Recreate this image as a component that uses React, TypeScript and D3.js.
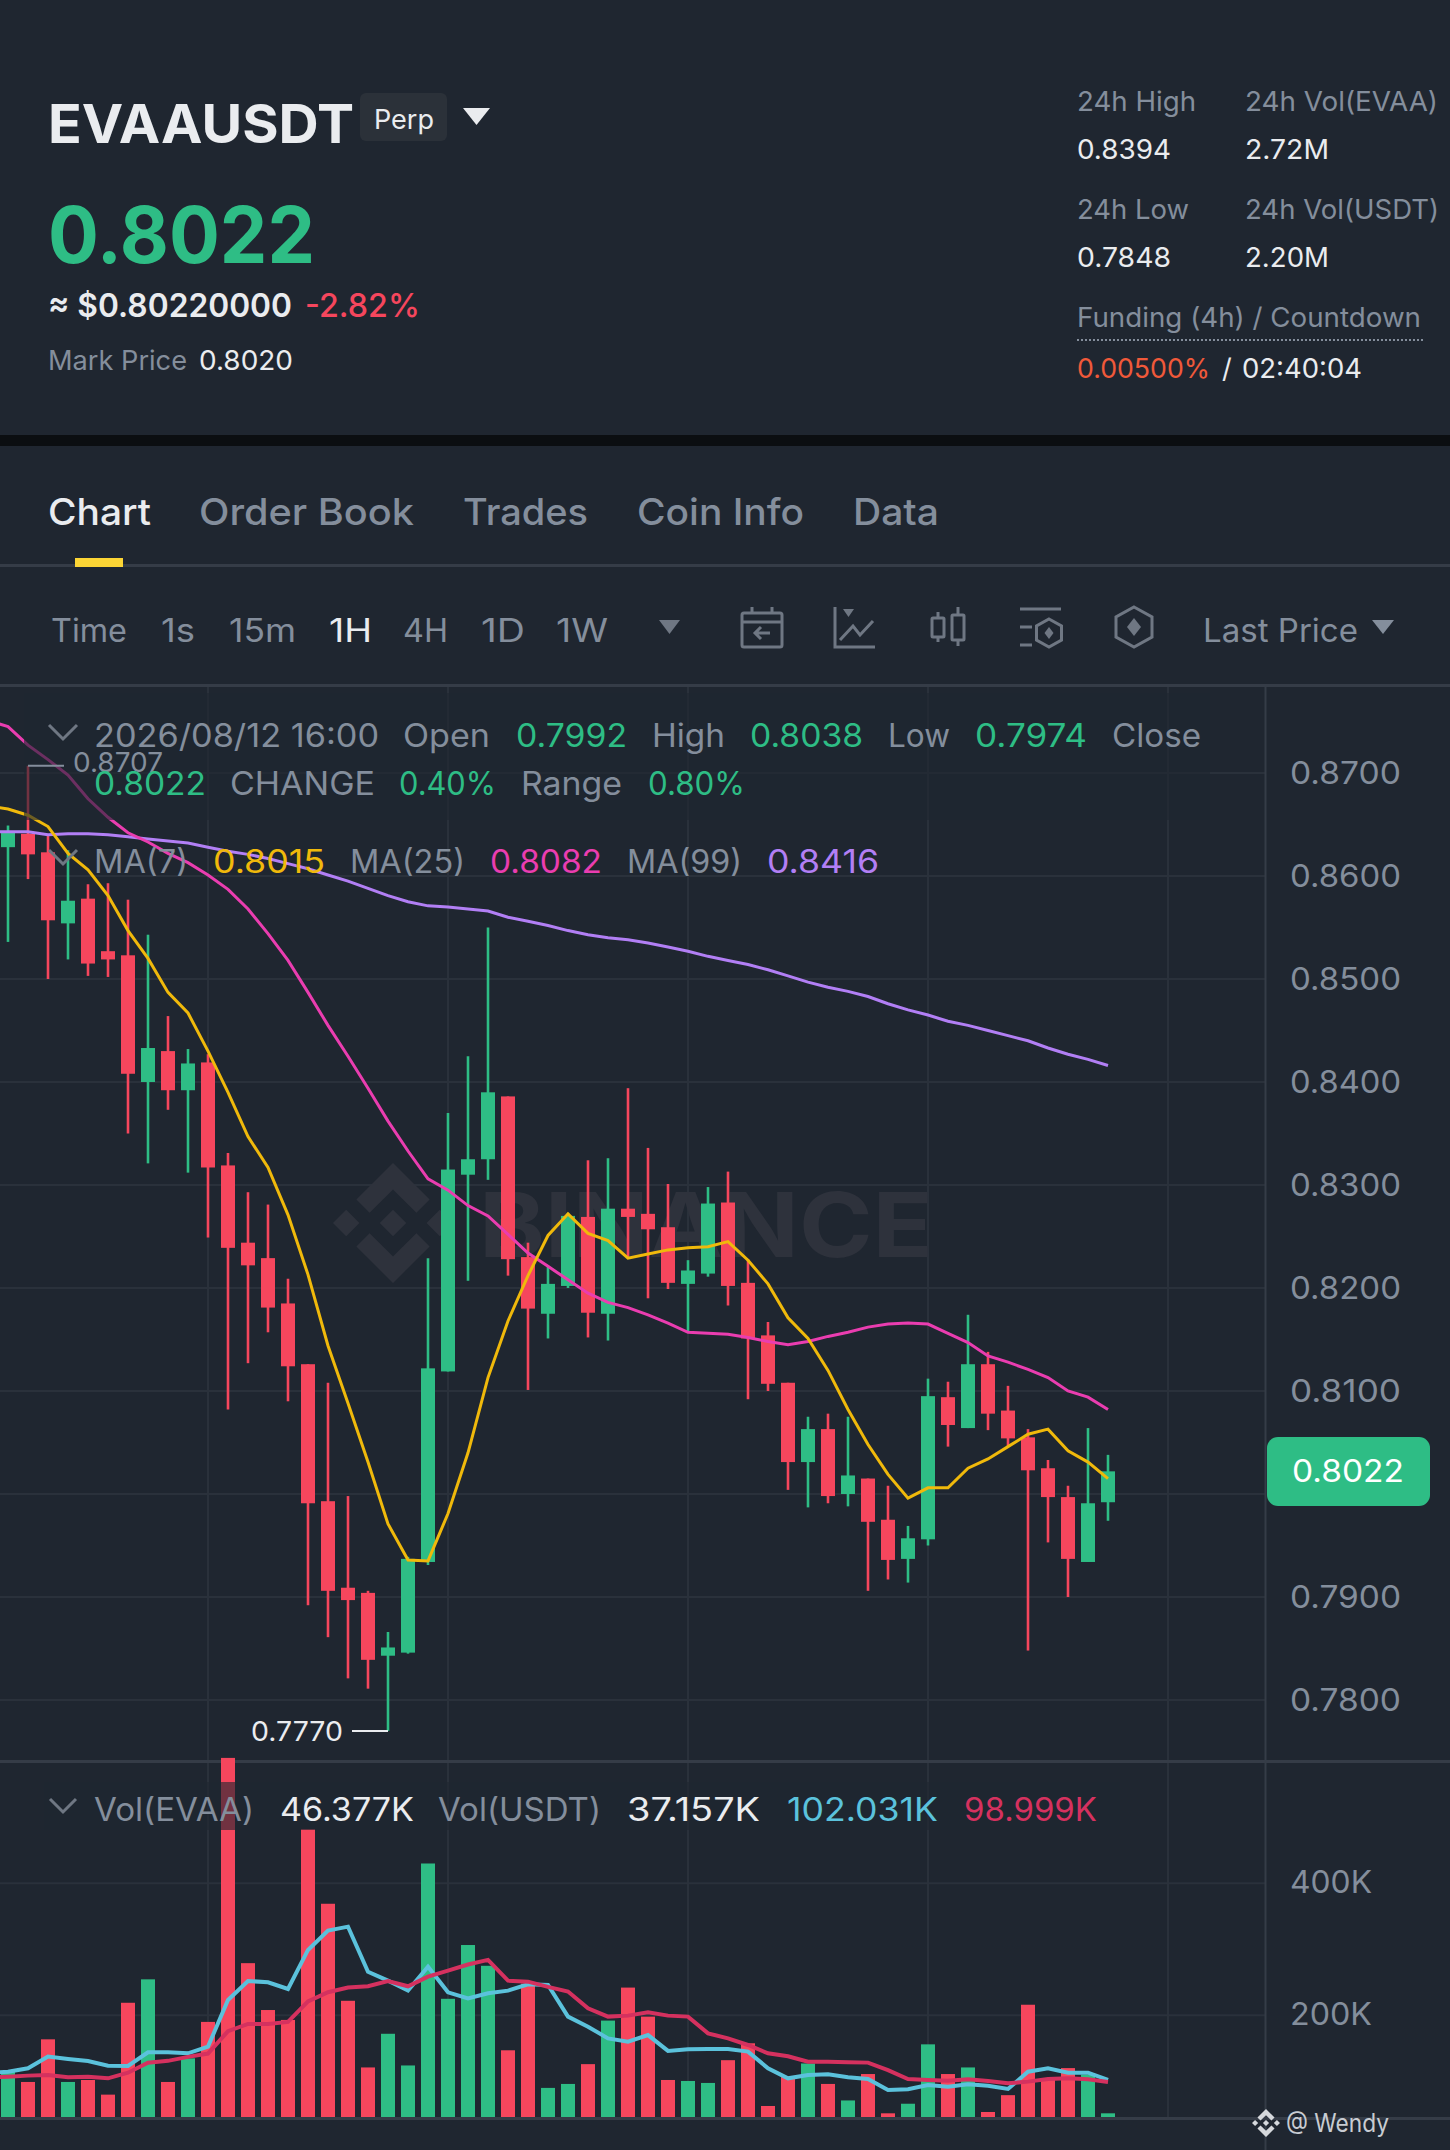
import React from 'react';
import * as d3 from 'd3';

// one entry per 1H candle
const opens = [0.8628,0.8641,0.8623,0.8554,0.8578,0.8527,0.8523,0.84,0.843,0.8392,0.8419,0.8319,0.8244,0.8229,0.8185,0.8126,0.7993,0.7909,0.7904,0.7843,0.7846,0.7934,0.8119,0.831,0.8325,0.8386,0.823,0.8175,0.8202,0.8269,0.8175,0.8277,0.8272,0.8259,0.8204,0.8214,0.8283,0.8205,0.8154,0.8108,0.8031,0.8063,0.8,0.8015,0.7975,0.7937,0.7956,0.8094,0.8064,0.8126,0.8081,0.8055,0.8025,0.7997,0.7934,0.7992];
const closes = [0.8642,0.8621,0.8557,0.8576,0.8515,0.8519,0.8408,0.8433,0.8392,0.8418,0.8317,0.8239,0.8222,0.8181,0.8124,0.7991,0.7906,0.7897,0.7839,0.7851,0.7937,0.8122,0.8315,0.8325,0.839,0.8228,0.818,0.8204,0.827,0.8176,0.8277,0.8269,0.8257,0.8205,0.8217,0.8282,0.8202,0.8151,0.8107,0.8031,0.8063,0.7998,0.8018,0.7973,0.7936,0.7957,0.8095,0.8067,0.8126,0.8078,0.8054,0.8023,0.7997,0.7937,0.7991,0.8022];
const highs = [0.8649,0.8707,0.864,0.8625,0.8592,0.8593,0.8577,0.8543,0.8464,0.8432,0.8427,0.8331,0.8293,0.8281,0.8209,0.8126,0.8108,0.7998,0.7906,0.7866,0.7939,0.8229,0.837,0.8425,0.855,0.8386,0.8244,0.8221,0.8273,0.8324,0.8326,0.8394,0.8336,0.8301,0.8227,0.8298,0.8313,0.8228,0.8167,0.8108,0.8075,0.8078,0.8075,0.8015,0.8008,0.7969,0.8112,0.8109,0.8174,0.8138,0.8105,0.8063,0.8033,0.8008,0.8064,0.8038];
const lows = [0.8536,0.8597,0.85,0.8519,0.8503,0.8502,0.835,0.8321,0.8373,0.8312,0.8249,0.8082,0.8127,0.8157,0.809,0.7892,0.7861,0.7821,0.7811,0.777,0.7845,0.7931,0.8119,0.8207,0.8305,0.8212,0.8101,0.8151,0.82,0.8152,0.8149,0.823,0.819,0.8199,0.8158,0.8211,0.8183,0.8092,0.81,0.8004,0.7987,0.7991,0.7988,0.7906,0.7917,0.7914,0.795,0.8046,0.8064,0.8062,0.8046,0.7848,0.7953,0.79,0.7934,0.7974];

// moving averages start one candle before the first visible one
const ma7 = [0.8668,0.8665,0.8659,0.8648,0.8622,0.8606,0.8581,0.8547,0.852,0.8487,0.8467,0.843,0.839,0.8347,0.8317,0.8271,0.8213,0.8144,0.8088,0.8031,0.7971,0.7936,0.7935,0.7981,0.804,0.8113,0.8168,0.8212,0.8251,0.8272,0.8253,0.8246,0.8229,0.8233,0.8237,0.8239,0.824,0.8245,0.8227,0.8204,0.8171,0.8151,0.812,0.8082,0.8048,0.8019,0.7996,0.8006,0.8006,0.8025,0.8034,0.8046,0.8058,0.8063,0.8042,0.8031,0.8015];
const ma25 = [0.8751,0.8745,0.8727,0.8713,0.8698,0.8675,0.8657,0.8642,0.8633,0.8622,0.8613,0.8601,0.8587,0.8568,0.8544,0.8518,0.8487,0.8455,0.8425,0.8394,0.8362,0.8333,0.8306,0.8295,0.828,0.827,0.8252,0.8234,0.8221,0.8208,0.8195,0.8186,0.8181,0.8174,0.8166,0.8157,0.8156,0.8155,0.8152,0.8148,0.8145,0.8148,0.8153,0.8157,0.8162,0.8165,0.8166,0.8165,0.8156,0.8147,0.8134,0.8128,0.8121,0.8113,0.81,0.8094,0.8082];
const ma99 = [0.8643,0.8643,0.8643,0.864,0.8641,0.8641,0.864,0.8638,0.8636,0.8634,0.8632,0.8628,0.8624,0.8621,0.8617,0.8612,0.8607,0.8601,0.8595,0.8588,0.8581,0.8575,0.8571,0.857,0.8568,0.8566,0.856,0.8556,0.8552,0.8547,0.8543,0.854,0.8538,0.8535,0.8531,0.8527,0.8522,0.8518,0.8514,0.8509,0.8503,0.8497,0.8492,0.8488,0.8483,0.8476,0.847,0.8465,0.8459,0.8455,0.845,0.8445,0.844,0.8433,0.8427,0.8422,0.8416];

// volume in thousands of EVAA
const volumes = [114.6,99,163.6,99,102,79.8,219,254.5,99,134.8,190,590,279,208,193,482,369,222,121,172,124,430,225,306.5,275,147,248,90,96,126,192,242,198,102,100.5,97.5,132,157.6,62.6,107,127,96,71,111,51.5,66,156,111,121,53.5,79,216,104,120,110,51.5];
const volMaBlue = [112,114.6,119.7,137.4,133.8,130.8,123.7,123.2,143.9,143.9,142.4,152.5,223.2,252,250,239.9,299,328.3,334.3,266,252.5,237.4,273.7,234.8,225.7,233.3,237.4,247,245.9,198,182.8,165,160,170,146,148.5,149,149,145,119.7,104.5,109.6,110.6,106,103.5,86.9,87.9,94.4,91.9,95.4,93.4,88.4,114.6,119.7,113,113,102];
const volMaRed = [106,107,108.6,109.6,106,107,104.5,113,128,131,137,142,176,187,187,190,221,235,242,244,252,244,258.6,267.7,277,284,252.5,251,243,236,210.6,198,199.5,204.5,199.5,198,172.7,165,155,142.4,138,129.8,129.8,128.8,128.3,117,103.5,102,101,103,100.5,97,99.5,103.5,104.5,103,99];

const priceTicks = [0.87,0.86,0.85,0.84,0.83,0.82,0.81,0.8,0.79,0.78];
const volTicks = [400,200];
const timeGridIdx = [10,22,34,46,58];

const tabs: [string, number, number][] = [['Chart',48,103],['Order Book',199,215],['Trades',463,125],['Coin Info',637,167],['Data',853,86]];
const intervals: [string, number, number][] = [['Time',51,76],['1s',161,34],['15m',229,67],['1H',329,43],['4H',403,45],['1D',481,44],['1W',556,52]];

const BG = '#1f2630';
const GREEN = '#2ebd85';
const RED = '#f6465d';
const WHITE = '#eaecef';
const GREY = '#848e9c';
const GRID = '#2a313b';
const LINE = '#353c47';
const FONT = 'Inter, sans-serif';

const x = d3.scaleLinear().domain([0, 55]).range([8, 1108]);
const y = d3.scaleLinear().domain([0.78, 0.87]).range([1700, 773]);
const yVol = d3.scaleLinear().domain([0, 400]).range([2147.3, 1883.3]);
const volBase = 2117;
const overlay = 0.62;

const maPath = (vals: number[], sy: (v: number) => number) =>
  d3.line<number>().x((_, i) => x(i - 1)).y(v => sy(v))(vals) as string;

const T = ({ x, y, s = 33, c = GREY, w = 400, a, tl, children }: any) => (
  <text x={x} y={y} fontSize={s} fill={c} fontWeight={w} textAnchor={a} fontFamily={FONT}
    textLength={tl} lengthAdjust={tl ? 'spacingAndGlyphs' : undefined}>{children}</text>
);

const Chevron = ({ x, y, w = 28, h = 14 }: any) => (
  <path d={`M${x} ${y}L${x + w / 2} ${y + h}L${x + w} ${y}`} fill="none" stroke="#6f7783" strokeWidth={3} />
);

const Tri = ({ x, y, w, h, c }: any) => <path d={`M${x} ${y}H${x + w}L${x + w / 2} ${y + h}Z`} fill={c} />;

// binance mark, unit coordinates scaled by r
const Logo = ({ cx, cy, r, c }: any) => {
  const diamond = (dx: number) => `M${dx} -0.22L${dx + 0.22} 0L${dx} 0.22L${dx - 0.22} 0Z`;
  const d = [diamond(0), diamond(-0.78), diamond(0.78),
    'M0 -1L0.61 -0.39L0.39 -0.17L0 -0.56L-0.39 -0.17L-0.61 -0.39Z',
    'M0 1L0.61 0.39L0.39 0.17L0 0.56L-0.39 0.17L-0.61 0.39Z'].join('');
  return <path transform={`translate(${cx} ${cy}) scale(${r})`} d={d} fill={c} />;
};

const Hex = ({ cx, cy, hw, hh, dw, dh }: any) => (
  <g>
    <path d={`M${cx} ${cy - hh}L${cx + hw} ${cy - hh * 0.5}V${cy + hh * 0.5}L${cx} ${cy + hh}L${cx - hw} ${cy + hh * 0.5}V${cy - hh * 0.5}Z`} fill="none" stroke="#6f7783" strokeWidth={3} />
    <path d={`M${cx} ${cy - dh}L${cx + dw} ${cy}L${cx} ${cy + dh}L${cx - dw} ${cy}Z`} fill="#6f7783" stroke="none" />
  </g>
);

const ToolIcons = () => (
  <g fill="none" stroke="#6f7783" strokeWidth={3}>
    <rect x={742} y={613} width={40} height={34} rx={2} />
    <path d="M752 607V613M772 607V613M742 622H782M770 633H755M761 627L755 633L761 639" />
    <path d="M835 607V647H875M840 640L853 626L860 635L873 621" />
    <path d="M843 609H854L848.5 617Z" fill="#6f7783" stroke="none" />
    <rect x={932} y={618} width={12} height={19} rx={1} />
    <rect x={952} y={615} width={12} height={25} rx={1} />
    <path d="M938 612V618M938 637V642M958 607V615M958 640V646" />
    <path d="M1020 609H1061M1020 627H1032M1020 645H1032" />
    <Hex cx={1049} cy={633} hw={12.5} hh={14} dw={4.5} dh={6} />
    <Hex cx={1134} cy={627} hw={18} hh={20} dw={7} dh={9} />
  </g>
);

const Header = () => (
  <g>
    <T x={48} y={143} s={54} c={WHITE} w={700} tl={306}>EVAAUSDT</T>
    <rect x={360} y={93} width={87} height={48} rx={6} fill="#2b3139" />
    <T x={374} y={129} s={27} c={WHITE} tl={60}>Perp</T>
    <Tri x={463} y={108} w={27} h={17} c={WHITE} />
    <T x={48} y={263} s={78} c={GREEN} w={700} tl={267}>0.8022</T>
    <T x={48} y={317} s={33} c={WHITE} w={600} tl={244}>≈ $0.80220000</T>
    <T x={305} y={317} s={33} c={RED} w={500} tl={115}>-2.82%</T>
    <T x={48} y={370} s={27} tl={139}>Mark Price</T>
    <T x={199} y={370} s={27} c={WHITE} tl={94}>0.8020</T>
    <T x={1077} y={111} s={27} tl={119}>24h High</T>
    <T x={1245} y={111} s={27} tl={193}>24h Vol(EVAA)</T>
    <T x={1077} y={159} s={27} c={WHITE} tl={94}>0.8394</T>
    <T x={1245} y={159} s={27} c={WHITE} tl={84}>2.72M</T>
    <T x={1077} y={219} s={27} tl={112}>24h Low</T>
    <T x={1245} y={219} s={27} tl={194}>24h Vol(USDT)</T>
    <T x={1077} y={267} s={27} c={WHITE} tl={94}>0.7848</T>
    <T x={1245} y={267} s={27} c={WHITE} tl={84}>2.20M</T>
    <T x={1077} y={327} s={27} tl={344}>Funding (4h) / Countdown</T>
    <line x1={1077} x2={1423} y1={340} y2={340} stroke={GREY} strokeWidth={2} strokeDasharray="2 2" />
    <T x={1077} y={378} s={27} c="#f0593a" tl={133}>0.00500%</T>
    <T x={1222} y={378} s={27} c={WHITE}>/</T>
    <T x={1242} y={378} s={27} c={WHITE} tl={120}>02:40:04</T>
    <rect x={0} y={435} width={1450} height={11} fill="#0b0e11" />
    {tabs.map(([t, tx, tl], i) => <T key={t} x={tx} y={525} s={37} c={i === 0 ? WHITE : GREY} w={500} tl={tl}>{t}</T>)}
    <rect x={0} y={564} width={1450} height={3} fill={LINE} />
    <rect x={75} y={558} width={48} height={9} fill="#fcd535" />
    {intervals.map(([t, tx, tl]) => <T key={t} x={tx} y={642} s={32} c={t === '1H' ? WHITE : GREY} tl={tl}>{t}</T>)}
    <Tri x={659} y={620} w={21} h={14} c="#6f7783" />
    <ToolIcons />
    <T x={1203} y={642} s={32} tl={155}>Last Price</T>
    <Tri x={1372} y={620} w={22} h={14} c={GREY} />
    <rect x={0} y={684} width={1450} height={3} fill={LINE} />
  </g>
);

const Legends = () => (
  <g>
    <Chevron x={49} y={725} />
    <T x={94} y={747} s={32} tl={285}>2026/08/12 16:00</T>
    <T x={403} y={747} s={32} tl={87}>Open</T><T x={516} y={747} s={32} c={GREEN} tl={111}>0.7992</T>
    <T x={652} y={747} s={32} tl={73}>High</T><T x={750} y={747} s={32} c={GREEN} tl={113}>0.8038</T>
    <T x={888} y={747} s={32} tl={62}>Low</T><T x={975} y={747} s={32} c={GREEN} tl={112}>0.7974</T>
    <T x={1112} y={747} s={32} tl={89}>Close</T>
    <T x={94} y={795} s={32} c={GREEN} tl={112}>0.8022</T>
    <T x={230} y={795} s={32} tl={145}>CHANGE</T><T x={399} y={795} s={32} c={GREEN} tl={97}>0.40%</T>
    <T x={521} y={795} s={32} tl={101}>Range</T><T x={648} y={795} s={32} c={GREEN} tl={97}>0.80%</T>
    <Chevron x={49} y={850} />
    <T x={94} y={873} s={32} tl={94}>MA(7)</T><T x={213} y={873} s={32} c="#f0b90b" tl={112}>0.8015</T>
    <T x={350} y={873} s={32} tl={115}>MA(25)</T><T x={490} y={873} s={32} c="#ea3db0" tl={112}>0.8082</T>
    <T x={627} y={873} s={32} tl={115}>MA(99)</T><T x={767} y={873} s={32} c="#b27ff5" tl={112}>0.8416</T>
  </g>
);

const VolLegend = () => (
  <g>
    <Chevron x={50} y={1799} w={26} h={13} />
    <T x={94} y={1821} s={32} tl={160}>Vol(EVAA)</T>
    <T x={280} y={1821} s={32} c={WHITE} tl={134}>46.377K</T>
    <T x={438} y={1821} s={32} tl={163}>Vol(USDT)</T>
    <T x={627} y={1821} s={32} c={WHITE} tl={133}>37.157K</T>
    <T x={787} y={1821} s={32} c="#5bc2dc" tl={151}>102.031K</T>
    <T x={964} y={1821} s={32} c="#d5315f" tl={133}>98.999K</T>
  </g>
);

export default function App() {
  const priceAxis = React.useRef<SVGGElement>(null);
  const volAxis = React.useRef<SVGGElement>(null);

  React.useEffect(() => {
    const style = (sel: any, len: number, dy: number) => {
      sel.select('.domain').remove();
      sel.selectAll('.tick line').remove();
      sel.selectAll('.tick text')
        .attr('x', 0).attr('dy', dy)
        .attr('fill', GREY)
        .attr('textLength', len)
        .attr('lengthAdjust', 'spacingAndGlyphs')
        .style('font-family', FONT)
        .style('font-size', '31px');
    };
    d3.select(priceAxis.current).call(
      d3.axisRight(y).tickValues(priceTicks).tickFormat(d => (d as number).toFixed(4)) as any
    ).call(style as any, 111, 10);
    d3.select(volAxis.current).call(
      d3.axisRight(yVol).tickValues(volTicks).tickFormat(d => `${d}K`) as any
    ).call(style as any, 82, 9);
  }, []);

  return (
    <svg width={1450} height={2150} viewBox="0 0 1450 2150" style={{ position: 'absolute', left: 0, top: 0, display: 'block' }}>
      <rect width={1450} height={2150} fill={BG} />
      <Header />

      {/* grid */}
      {priceTicks.map(t => <line key={t} x1={0} x2={1265} y1={y(t)} y2={y(t)} stroke={GRID} strokeWidth={2} />)}
      {volTicks.map(t => <line key={t} x1={0} x2={1265} y1={yVol(t)} y2={yVol(t)} stroke={GRID} strokeWidth={2} />)}
      {timeGridIdx.map(i => <line key={i} x1={x(i)} x2={x(i)} y1={687} y2={volBase} stroke={GRID} strokeWidth={2} />)}
      <rect x={1264.5} y={687} width={2} height={1463} fill={LINE} />
      <rect x={0} y={1760} width={1450} height={3} fill={LINE} />
      <rect x={0} y={2117} width={1450} height={3} fill={LINE} />

      {/* watermark */}
      <Logo cx={393} cy={1223} r={60} c="#2e323c" />
      <text x={479} y={1257} fontSize={90} fontWeight={700} fill="#2e323c" fontFamily={FONT} textLength={454} lengthAdjust="spacingAndGlyphs">BINANCE</text>

      {/* candles */}
      {opens.map((o, i) => {
        const c = closes[i];
        const col = c >= o ? GREEN : RED;
        return (
          <g key={i}>
            <line x1={x(i)} x2={x(i)} y1={y(highs[i])} y2={y(lows[i])} stroke={col} strokeWidth={2.6} />
            <rect x={x(i) - 7} width={14} y={y(Math.max(o, c))} height={Math.max(Math.abs(y(o) - y(c)), 1)} fill={col} />
          </g>
        );
      })}
      <path d={maPath(ma99, y)} fill="none" stroke="#b27ff5" strokeWidth={3} />
      <path d={maPath(ma25, y)} fill="none" stroke="#ea3db0" strokeWidth={3} />
      <path d={maPath(ma7, y)} fill="none" stroke="#f0b90b" strokeWidth={3} />

      {/* legend backdrop dims what runs beneath it */}
      <rect x={24} y={693} width={1186} height={127} fill={BG} fillOpacity={overlay} />

      {/* extremes */}
      <line x1={28} x2={64} y1={y(0.8707)} y2={y(0.8707)} stroke={GREY} strokeWidth={2} />
      <T x={73} y={772} s={27} tl={90}>0.8707</T>
      <line x1={352} x2={388} y1={y(0.777)} y2={y(0.777)} stroke={WHITE} strokeWidth={2} />
      <T x={251} y={1741} s={27} c={WHITE} tl={92}>0.7770</T>

      <Legends />

      {/* volume */}
      {volumes.map((v, i) => (
        <rect key={i} x={x(i) - 7} width={14} y={yVol(v)} height={volBase - yVol(v)} fill={closes[i] >= opens[i] ? GREEN : RED} />
      ))}
      <path d={maPath(volMaBlue, yVol)} fill="none" stroke="#5bc2dc" strokeWidth={4} />
      <path d={maPath(volMaRed, yVol)} fill="none" stroke="#d5315f" strokeWidth={4} />
      <rect x={44} y={1782} width={1076} height={48} fill={BG} fillOpacity={overlay} />
      <VolLegend />

      {/* axes */}
      <g ref={priceAxis} transform="translate(1290 0)" />
      <g ref={volAxis} transform="translate(1290 0)" />
      <rect x={1267} y={1437} width={163} height={69} rx={11} fill={GREEN} />
      <T x={1292} y={1482} s={31} c="#fff" tl={112}>0.8022</T>

      <Logo cx={1266} cy={2123} r={14} c="#d5d8dc" />
      <T x={1286} y={2132} s={25} c="#c8ccd2" tl={103}>@ Wendy</T>
    </svg>
  );
}
